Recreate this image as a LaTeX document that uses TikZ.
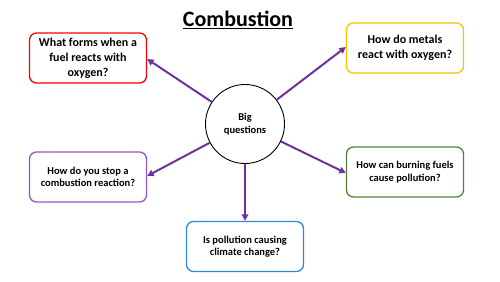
\documentclass[tikz,border=0pt]{standalone}
\usepackage{fontspec}
\setmainfont{Carlito}
\usetikzlibrary{arrows.meta}
\definecolor{arrowpurple}{HTML}{7030A0}
\definecolor{bred}{HTML}{FF0000}
\definecolor{byellow}{HTML}{FFC000}
\definecolor{bpurple}{HTML}{9454C4}
\definecolor{bblue}{HTML}{2E8BD6}
\definecolor{bgreen}{HTML}{548235}
\tikzset{
  qbox/.style={draw, line width=1.3pt, rounded corners=7pt, minimum width=117pt, minimum height=50pt, align=center, font=\bfseries\fontsize{12}{15}\selectfont, inner sep=2pt},
  small/.style={font=\bfseries\fontsize{10.5}{12.6}\selectfont},
  conn/.style={draw=arrowpurple, line width=2pt, -{Triangle[length=6.5pt,width=6.5pt]}}
}
\begin{document}
\begin{tikzpicture}[x=1pt,y=-1pt]
\useasboundingbox (0,0) rectangle (500,281);
\node[font=\bfseries\fontsize{22}{24}\selectfont] (title) at (238,20) {\underline{Combustion}};
\node[draw, circle, line width=0.9pt, minimum size=79pt, inner sep=0pt, align=center, font=\bfseries\fontsize{10.5}{13}\selectfont] (c) at (245,124) {Big\\questions};
\node[qbox, draw=bred] (q1) at (88,58) {What forms when a\\fuel reacts with\\oxygen?};
\node[qbox, draw=byellow] (q2) at (405,48) {How do metals\\react with oxygen?};
\node[qbox, small, draw=bpurple] (q3) at (88,177) {How do you stop a\\combustion reaction?};
\node[qbox, small, draw=bblue] (q4) at (245,246.5) {Is pollution causing\\climate change?};
\node[qbox, small, draw=bgreen] (q5) at (405,172) {How can burning fuels\\cause pollution?};
\draw[conn] (c) -- (q1.east |- 0,59);
\draw[conn] (c) -- (q2.west |- 0,47);
\draw[conn] (c) -- (q3.east |- 0,176);
\draw[conn] (c) -- (q4);
\draw[conn] (c) -- (q5.west |- 0,173);
\end{tikzpicture}
\end{document}
